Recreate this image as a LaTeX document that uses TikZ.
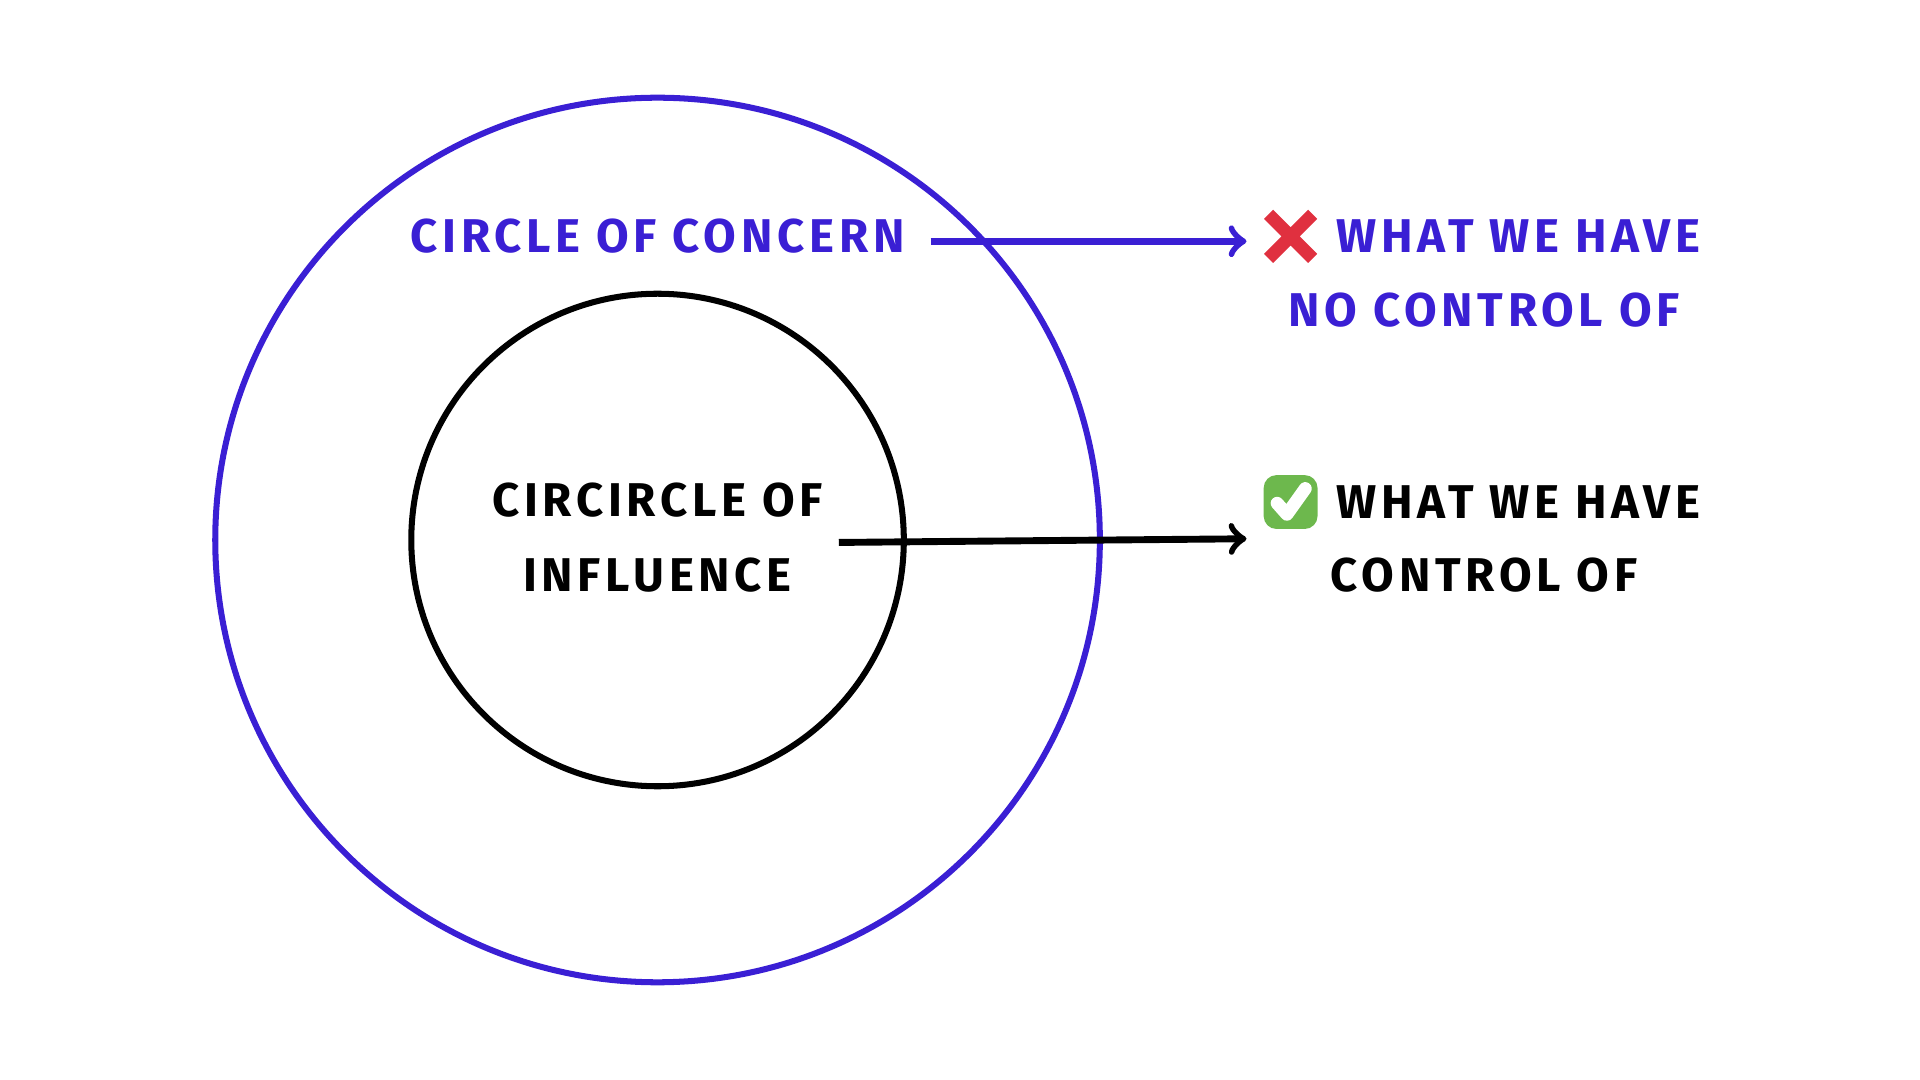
\documentclass[tikz,border=0pt]{standalone}
\usepackage{fontspec}
\setmainfont{Fira Sans}
\usetikzlibrary{positioning,calc}
\definecolor{concern}{HTML}{3A1FD4}
\definecolor{nogo}{HTML}{E0303F}
\definecolor{okbox}{HTML}{6DB84D}
\tikzset{
  hand/.style={font=\fontsize{11}{17.6}\selectfont\bfseries\addfontfeatures{LetterSpace=10},align=center,inner sep=0pt},
  link/.style={->,line width=1.6pt},
}
\begin{document}
\begin{tikzpicture}[x=0.01cm,y=-0.01cm]
    \useasboundingbox (0,0) rectangle (1568,882);
    % the two rings
    \node[circle,draw=concern,line width=1.4pt,minimum size=7.22cm,inner sep=0pt] (Concern) at (537,441) {};
    \node[circle,draw=black,line width=1.4pt,minimum size=4.02cm,inner sep=0pt] (Influence) at (537,441) {};
    \node[hand,text=concern] (ConcernTxt) at (537,193) {CIRCLE OF CONCERN};
    \node[hand] (InfluenceTxt) at (537,439) {CIRCIRCLE OF\\INFLUENCE};
    % right hand notes
    \node[hand,text=concern] (NoCtlA) at (1240,193) {WHAT WE HAVE};
    \node[hand,text=concern] (NoCtlB) at (1212,253) {NO CONTROL OF};
    \node[hand] (CtlA) at (1240,410) {WHAT WE HAVE};
    \node[hand] (CtlB) at (1212,470) {CONTROL OF};
    \coordinate (NoTip) at (1018,197);
    \coordinate (CtlTip) at (1018,440);
    \coordinate (CtlTail) at (685,443);
    \coordinate (NoTail) at (760,197);
    \draw[link,concern] (NoTail) -- (NoTip);
    \draw[link] (CtlTail) -- (CtlTip);
    % the marks
    \coordinate (Cross) at (1054,193);
    \draw[nogo,line width=3pt] ($(Cross)+(-18,-18)$) -- ($(Cross)+(18,18)$) ($(Cross)+(18,-18)$) -- ($(Cross)+(-18,18)$);
    \node[fill=okbox,rounded corners=3pt,minimum size=0.44cm,inner sep=0pt] (Check) at (1054,410) {};
    \draw[white,line width=3pt,line cap=round,line join=round] ($(Check)+(-11,1)$) -- ($(Check)+(-3,10)$) -- ($(Check)+(12,-11)$);
\end{tikzpicture}
\end{document}
